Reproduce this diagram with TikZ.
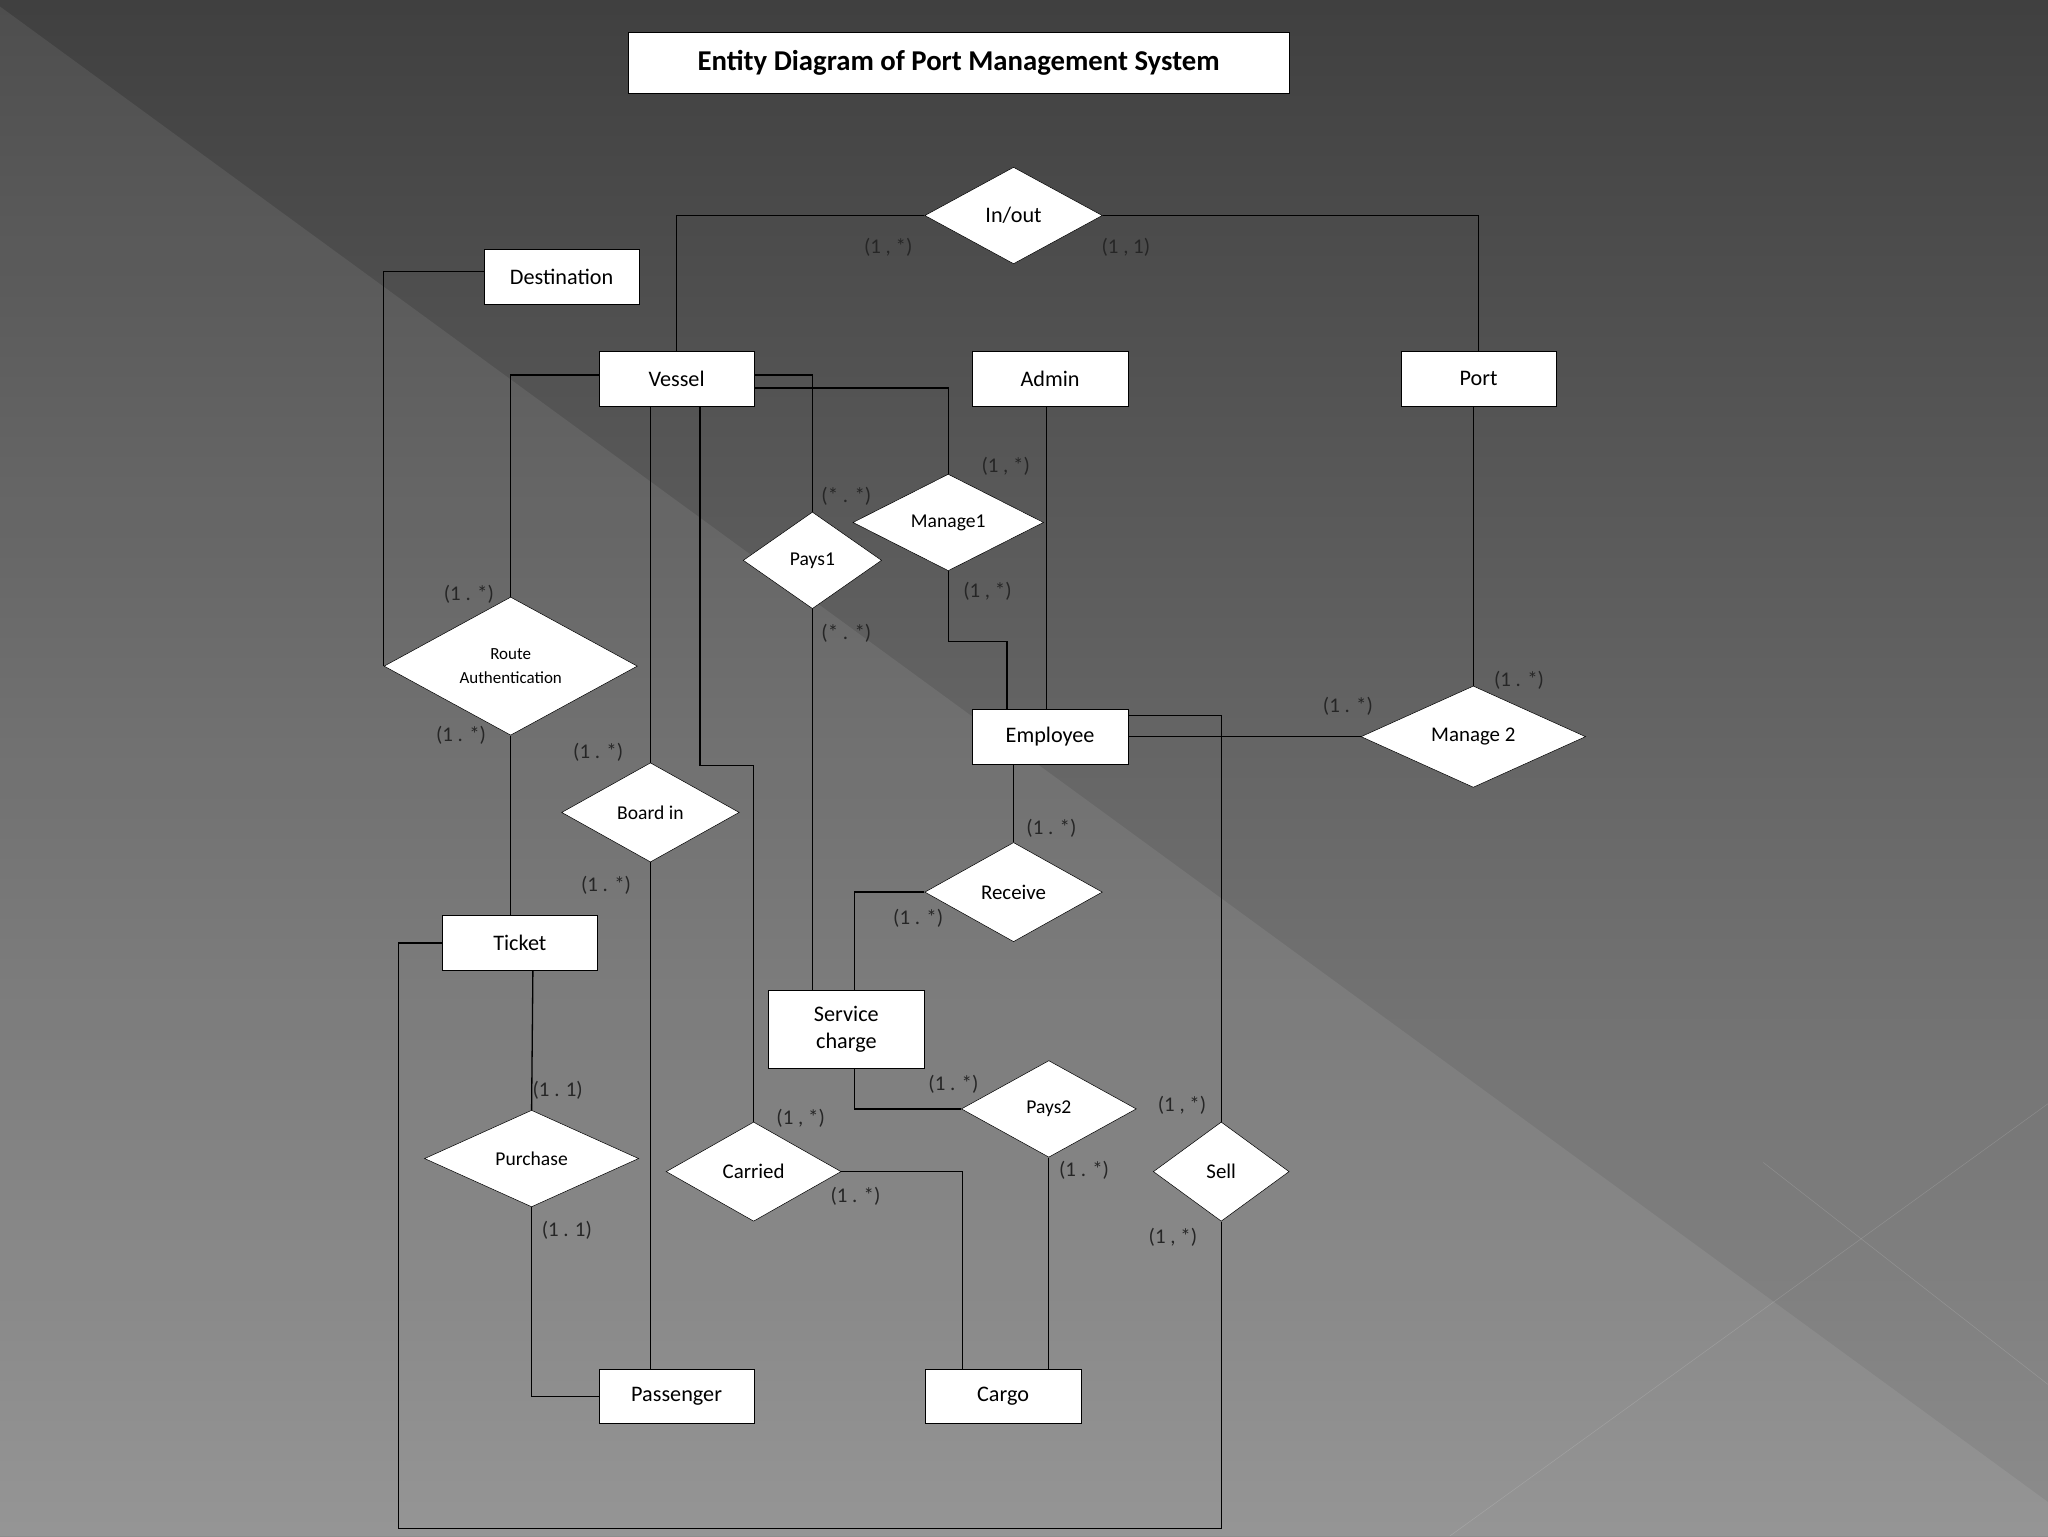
\documentclass[tikz,border=0pt]{standalone}
\usepackage{fontspec}
\setmainfont{Carlito}
\usetikzlibrary{shapes.geometric}
\tikzset{
ent/.style={draw=black,fill=white,minimum width=119pt,minimum height=42pt,inner sep=0pt,font=\fontsize{17}{20}\selectfont,align=center},
rel/.style={draw=black,fill=white,diamond,inner sep=0pt,font=\fontsize{15}{18}\selectfont,align=center},
card/.style={font=\fontsize{16}{18}\selectfont,text=black!85},
ln/.style={draw=black,line width=1pt}
}
\begin{document}
\begin{tikzpicture}[x=1pt,y=-1pt]
\useasboundingbox (0,0) rectangle (1568,1176);
\shade[top color=black!75,bottom color=black!45] (0,0) rectangle (1568,1176);
\fill[white,opacity=0.08] (0,5) -- (1568,1150) -- (1568,1176) -- (0,1176) -- cycle;
\draw[white,opacity=0.15] (1568,845) -- (1110,1176);
\draw[white,opacity=0.15] (1350,890) -- (1568,1060);
% title
\node[draw=black,fill=white,minimum width=506pt,minimum height=47pt,font=\fontsize{22}{26}\selectfont\bfseries] (title) at (734,48) {Entity Diagram of Port Management System};
% entities
\node[ent] (dest) at (430,212) {Destination};
\node[ent] (vessel) at (518,290) {Vessel};
\node[ent] (admin) at (804,290) {Admin};
\node[ent] (port) at (1132,290) {Port};
\node[ent] (emp) at (804,564) {Employee};
\node[ent] (ticket) at (398,722) {Ticket};
\node[ent,minimum height=60pt] (sc) at (648,788) {Service\\charge};
\node[ent] (pass) at (518,1069) {Passenger};
\node[ent] (cargo) at (768,1069) {Cargo};
% relationships
\node[rel,minimum width=136pt,minimum height=74pt,font=\fontsize{17}{20}\selectfont] (inout) at (776,165) {In/out};
\node[rel,minimum width=146pt,minimum height=74pt] (m1) at (726,400) {Manage1};
\node[rel,minimum width=106pt,minimum height=74pt] (p1) at (622,429) {Pays1};
\node[rel,minimum width=194pt,minimum height=86pt,font=\fontsize{13}{19}\selectfont] (ra) at (391,510) {Route\\Authentication};
\node[rel,minimum width=136pt,minimum height=76pt] (bi) at (498,622) {Board in};
\node[rel,minimum width=172pt,minimum height=76pt,font=\fontsize{16}{19}\selectfont] (m2) at (1128,564) {Manage 2};
\node[rel,minimum width=136pt,minimum height=76pt,font=\fontsize{16}{19}\selectfont] (rc) at (776,683) {Receive};
\node[rel,minimum width=134pt,minimum height=74pt] (p2) at (803,849) {Pays2};
\node[rel,minimum width=164pt,minimum height=74pt] (pu) at (407,887) {Purchase};
\node[rel,minimum width=134pt,minimum height=76pt,font=\fontsize{16}{19}\selectfont] (ca) at (577,897) {Carried};
\node[rel,minimum width=104pt,minimum height=76pt,font=\fontsize{16}{19}\selectfont] (se) at (935,897) {Sell};
\coordinate (cl) at (305,1170);
% connectors
\draw[ln] (vessel.north) |- (inout.west);
\draw[ln] (inout.east) -| (port.north);
\draw[ln] ([yshift=4]dest.west) -| (ra.west);
\draw[ln] ([yshift=3]vessel.west) -| (ra.north);
\draw[ln] (ra.south) -- (ra.south |- ticket.north);
\draw[ln] (bi.north |- vessel.south) -- (bi.north);
\draw[ln] (bi.south) -- (bi.south |- pass.north);
\draw[ln] ([xshift=18]vessel.south) -- ++(0,275) -| (ca.north);
\draw[ln] ([yshift=3]vessel.east) -| (p1.north);
\draw[ln] (p1.south) -- (p1.south |- sc.north);
\draw[ln] ([yshift=-7]vessel.east) -| (m1.north);
\draw[ln] (m1.south) -- ++(0,54) -| ([xshift=-33]emp.north);
\draw[ln] ([xshift=-3]admin.south) -- ([xshift=-3]emp.north);
\draw[ln] (m2.north |- port.south) -- (m2.north);
\draw[ln] (emp.east) -- (m2.west);
\draw[ln] ([yshift=16]emp.east) -| (se.north);
\draw[ln] (se.south) |- (cl) |- (ticket.west);
\draw[ln] (rc.north |- emp.south) -- (rc.north);
\draw[ln] (rc.west) -| ([xshift=6]sc.north);
\draw[ln] ([xshift=6]sc.south) |- (p2.west);
\draw[ln] (p2.south) -- (p2.south |- cargo.north);
\draw[ln] (ca.east) -| ([xshift=-31]cargo.north);
\draw[ln] ([xshift=10]ticket.south) -- (pu.north);
\draw[ln] (pu.south) |- (pass.west);
% cardinalities
\node[card] at (680,189) {(1 , *)};
\node[card] at (862,189) {(1 , 1)};
\node[card] at (770,357) {(1 , *)};
\node[card] at (648,380) {(* . *)};
\node[card] at (756,453) {(1 , *)};
\node[card] at (648,485) {(* . *)};
\node[card] at (359,455) {(1 . *)};
\node[card] at (353,563) {(1 . *)};
\node[card] at (458,576) {(1 . *)};
\node[card] at (464,678) {(1 . *)};
\node[card] at (1032,541) {(1 . *)};
\node[card] at (1163,521) {(1 . *)};
\node[card] at (805,634) {(1 . *)};
\node[card] at (703,703) {(1 . *)};
\node[card] at (730,830) {(1 . *)};
\node[card] at (613,856) {(1 , *)};
\node[card] at (905,846) {(1 , *)};
\node[card] at (427,835) {(1 . 1)};
\node[card] at (434,942) {(1 . 1)};
\node[card] at (655,916) {(1 . *)};
\node[card] at (830,896) {(1 . *)};
\node[card] at (898,947) {(1 , *)};
\end{tikzpicture}
\end{document}
